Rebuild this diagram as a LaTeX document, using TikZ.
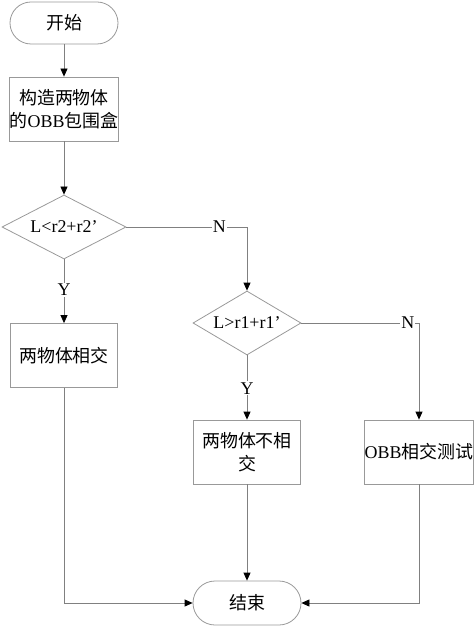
\documentclass[tikz,border=0pt]{standalone}
\usepackage{fontspec}
\setmainfont{Liberation Serif}
\newfontfamily\cjk{Noto Sans CJK SC}
\usetikzlibrary{arrows.meta,shapes.geometric}
\begin{document}
\begin{tikzpicture}[x=1bp,y=-1bp,
  font=\fontsize{18}{23}\selectfont,
  base/.style={draw=black!40, line width=0.8bp, inner sep=0pt, align=center, text=black},
  term/.style={base, rounded corners=21bp, minimum width=108bp, minimum height=42bp},
  procbox/.style={base, minimum width=107bp, minimum height=64bp},
  decide/.style={base, diamond, minimum height=64bp},
  conn/.style={draw=black!50, line width=0.8bp, -{Triangle[width=7bp,length=8bp,color=black,fill=black]}},
  lbl/.style={fill=white, inner sep=1bp, text=black}
]
\useasboundingbox (0,0) rectangle (474,626);
\node[term] (start) at (64,23) {\cjk 开始};
\node[procbox] (b1) at (64,109) {\cjk 构造两物体\\{\cjk 的}OBB{\cjk 包围盒}};
\node[decide, minimum width=124bp, aspect=1.94] (d1) at (64,227) {L<r2+r2’};
\node[decide, minimum width=108bp, aspect=1.69] (d2) at (247,323) {L>r1+r1’};
\node[procbox] (b2) at (64,355.5) {\cjk 两物体相交};
\node[procbox] (b3) at (247,452) {\cjk 两物体不相\\\cjk 交};
\node[procbox] (b4) at (419,452) {OBB{\cjk 相交测试}};
\node[term, minimum height=44bp, rounded corners=22bp] (end) at (247,603) {\cjk 结束};

\draw[conn] (start) -- (b1);
\draw[conn] (b1) -- (d1);
\draw[conn] (d1.east) -| node[lbl, pos=0.385] {N} (d2.north);
\draw[conn] (d1.south) -- node[lbl, pos=0.48] {Y} (b2.north);
\draw[conn] (d2.south) -- node[lbl, pos=0.51] {Y} (b3.north);
\draw[conn] (d2.east) -| node[lbl, pos=0.453] {N} (b4.north);
\draw[conn] (b2.south) |- (end.west);
\draw[conn] (b3.south) -- (end.north);
\draw[conn] (b4.south) |- (end.east);
\end{tikzpicture}
\end{document}
